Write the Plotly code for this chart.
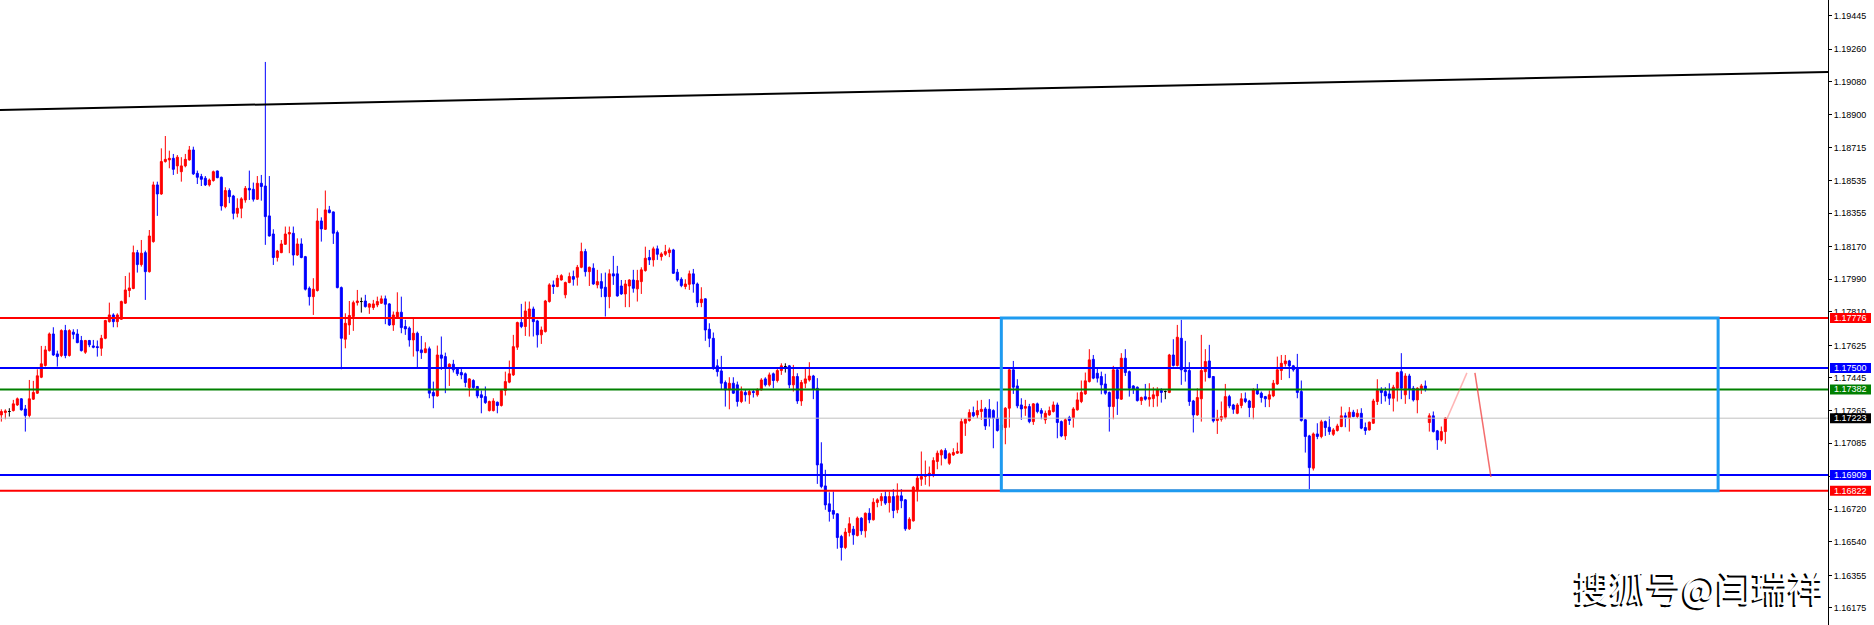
import plotly.graph_objects as go

# ---------------- data (EURUSD-like candles) ----------------
open_ = [
1.17241,1.17254,1.17260,1.17265,1.17296,1.17330,1.17274,1.17238,1.17328,1.17361,
1.17449,1.17514,1.17596,1.17688,1.17578,1.17569,1.17707,1.17569,1.17698,1.17688,
1.17652,1.17587,1.17652,1.17622,1.17618,1.17609,1.17664,1.17756,1.17793,1.17756,
1.17769,1.17858,1.17928,1.17939,1.18137,1.18071,1.18137,1.18032,1.18198,1.18511,
1.18461,1.18640,1.18649,1.18658,1.18616,1.18584,1.18616,1.18649,1.18704,1.18575,
1.18557,1.18548,1.18511,1.18535,1.18588,1.18553,1.18391,1.18480,1.18450,1.18354,
1.18382,1.18428,1.18492,1.18487,1.18432,1.18520,1.18505,1.18340,1.18240,1.18110,
1.18137,1.18183,1.18240,1.18244,1.18124,1.18185,1.18115,1.17940,1.17894,1.17928,
1.18312,1.18266,1.18373,1.18362,1.18248,1.17944,1.17659,1.17738,1.17784,1.17861,
1.17867,1.17870,1.17836,1.17834,1.17848,1.17858,1.17882,1.17854,1.17738,1.17778,
1.17808,1.17729,1.17720,1.17655,1.17692,1.17600,1.17585,1.17606,1.17365,1.17346,
1.17572,1.17563,1.17504,1.17521,1.17499,1.17475,1.17468,1.17392,1.17431,1.17398,
1.17352,1.17342,1.17265,1.17265,1.17311,1.17293,1.17376,1.17422,1.17462,1.17615,
1.17751,1.17729,1.17784,1.17826,1.17760,1.17683,1.17701,1.17867,1.17959,1.17950,
1.17986,1.17904,1.17972,1.18005,1.18001,1.18056,1.18143,1.18032,1.18051,1.17959,
1.17977,1.17946,1.17894,1.18020,1.18020,1.17953,1.17909,1.17953,1.17986,1.17937,
1.17977,1.18038,1.18110,1.18097,1.18158,1.18115,1.18128,1.18137,1.18152,1.18029,
1.17990,1.17950,1.17962,1.18020,1.17964,1.17861,1.17882,1.17714,1.17664,1.17512,
1.17484,1.17420,1.17379,1.17416,1.17407,1.17315,1.17365,1.17352,1.17370,1.17352,
1.17379,1.17440,1.17407,1.17468,1.17431,1.17486,1.17508,1.17512,1.17407,1.17453,
1.17318,1.17416,1.17434,1.17456,1.17388,1.16971,1.16849,1.16750,1.16713,1.16695,
1.16570,1.16509,1.16592,1.16610,1.16575,1.16671,1.16601,1.16698,1.16662,1.16757,
1.16767,1.16790,1.16757,1.16790,1.16717,1.16794,1.16772,1.16612,1.16656,1.16827,
1.16886,1.16901,1.16905,1.16910,1.16984,1.17020,1.17044,1.16974,1.17020,1.17030,
1.17030,1.17195,1.17210,1.17254,1.17241,1.17260,1.17274,1.17272,1.17265,1.17223,
1.17158,1.17171,1.17278,1.17490,1.17401,1.17296,1.17278,1.17287,1.17204,1.17302,
1.17265,1.17214,1.17241,1.17260,1.17296,1.17204,1.17125,1.17226,1.17226,1.17269,
1.17315,1.17357,1.17425,1.17548,1.17471,1.17453,1.17412,1.17365,1.17287,1.17490,
1.17328,1.17554,1.17480,1.17401,1.17394,1.17320,1.17341,1.17328,1.17331,1.17346,
1.17376,1.17370,1.17365,1.17572,1.17514,1.17664,1.17490,1.17486,1.17318,1.17241,
1.17330,1.17480,1.17539,1.17453,1.17210,1.17217,1.17228,1.17342,1.17296,1.17250,
1.17293,1.17330,1.17318,1.17282,1.17379,1.17361,1.17342,1.17328,1.17346,1.17412,
1.17486,1.17523,1.17539,1.17512,1.17499,1.17370,1.17214,1.17125,1.16947,1.17136,
1.17122,1.17204,1.17173,1.17134,1.17155,1.17177,1.17236,1.17226,1.17256,1.17232,
1.17250,1.17171,1.17158,1.17195,1.17315,1.17379,1.17370,1.17357,1.17333,1.17388,
1.17480,1.17352,1.17456,1.17388,1.17324,1.17383,1.17401,1.17199,1.17236,1.17153,
1.17103,1.17149]

high = [
1.17272,1.17272,1.17278,1.17324,1.17337,1.17333,1.17296,1.17434,1.17429,1.17493,
1.17622,1.17622,1.17696,1.17725,1.17596,1.17714,1.17738,1.17714,1.17714,1.17714,
1.17677,1.17655,1.17655,1.17655,1.17652,1.17683,1.17766,1.17861,1.17802,1.17802,
1.17872,1.18008,1.18027,1.18176,1.18152,1.18207,1.18148,1.18262,1.18529,1.18529,
1.18713,1.18781,1.18700,1.18682,1.18676,1.18664,1.18682,1.18726,1.18722,1.18590,
1.18572,1.18560,1.18546,1.18590,1.18590,1.18557,1.18498,1.18492,1.18456,1.18437,
1.18443,1.18505,1.18590,1.18524,1.18560,1.18566,1.19190,1.18560,1.18266,1.18152,
1.18207,1.18281,1.18281,1.18281,1.18216,1.18216,1.18119,1.17950,1.17996,1.18382,
1.18332,1.18480,1.18395,1.18364,1.18259,1.17950,1.17802,1.17870,1.17872,1.17931,
1.17889,1.17904,1.17858,1.17876,1.17894,1.17900,1.17900,1.17858,1.17812,1.17918,
1.17894,1.17766,1.17729,1.17775,1.17701,1.17677,1.17642,1.17618,1.17425,1.17624,
1.17674,1.17585,1.17526,1.17545,1.17504,1.17499,1.17475,1.17444,1.17438,1.17401,
1.17376,1.17398,1.17320,1.17333,1.17315,1.17383,1.17480,1.17541,1.17683,1.17756,
1.17854,1.17867,1.17867,1.17839,1.17766,1.17729,1.17876,1.17968,1.17983,1.18014,
1.18018,1.17977,1.18027,1.18038,1.18069,1.18192,1.18158,1.18060,1.18078,1.18042,
1.18023,1.18027,1.18045,1.18119,1.18064,1.17986,1.17986,1.17990,1.18042,1.18042,
1.18056,1.18170,1.18152,1.18170,1.18176,1.18139,1.18180,1.18165,1.18158,1.18047,
1.18001,1.17990,1.18038,1.18047,1.17972,1.17946,1.17885,1.17747,1.17696,1.17548,
1.17567,1.17431,1.17449,1.17449,1.17425,1.17398,1.17379,1.17379,1.17383,1.17388,
1.17444,1.17449,1.17475,1.17475,1.17499,1.17526,1.17526,1.17517,1.17517,1.17471,
1.17434,1.17499,1.17532,1.17462,1.17444,1.17090,1.16938,1.16814,1.16818,1.16698,
1.16579,1.16616,1.16676,1.16628,1.16680,1.16676,1.16702,1.16726,1.16781,1.16781,
1.16809,1.16818,1.16818,1.16831,1.16863,1.16831,1.16776,1.16676,1.16849,1.16905,
1.17039,1.16989,1.16956,1.17007,1.17044,1.17052,1.17057,1.17033,1.17057,1.17088,
1.17223,1.17223,1.17272,1.17287,1.17320,1.17324,1.17284,1.17328,1.17272,1.17315,
1.17214,1.17284,1.17499,1.17539,1.17438,1.17333,1.17324,1.17302,1.17306,1.17309,
1.17278,1.17265,1.17287,1.17315,1.17309,1.17210,1.17223,1.17236,1.17284,1.17365,
1.17431,1.17475,1.17604,1.17572,1.17499,1.17480,1.17468,1.17370,1.17512,1.17493,
1.17582,1.17604,1.17486,1.17405,1.17398,1.17342,1.17412,1.17416,1.17394,1.17394,
1.17388,1.17376,1.17578,1.17659,1.17738,1.17766,1.17650,1.17532,1.17324,1.17388,
1.17683,1.17604,1.17628,1.17456,1.17269,1.17315,1.17412,1.17352,1.17302,1.17306,
1.17361,1.17365,1.17324,1.17388,1.17412,1.17370,1.17346,1.17376,1.17434,1.17563,
1.17572,1.17572,1.17545,1.17517,1.17578,1.17431,1.17217,1.17131,1.17144,1.17195,
1.17214,1.17210,1.17232,1.17168,1.17192,1.17287,1.17254,1.17284,1.17269,1.17272,
1.17278,1.17199,1.17204,1.17330,1.17438,1.17394,1.17394,1.17416,1.17407,1.17480,
1.17582,1.17471,1.17468,1.17401,1.17394,1.17412,1.17431,1.17250,1.17260,1.17158,
1.17177,1.17228]

low = [
1.17204,1.17217,1.17232,1.17260,1.17291,1.17265,1.17149,1.17227,1.17324,1.17357,
1.17444,1.17508,1.17591,1.17567,1.17508,1.17560,1.17554,1.17563,1.17659,1.17637,
1.17591,1.17578,1.17615,1.17609,1.17563,1.17567,1.17659,1.17751,1.17725,1.17725,
1.17766,1.17854,1.17891,1.17935,1.18027,1.18060,1.17876,1.18027,1.18192,1.18340,
1.18456,1.18634,1.18603,1.18566,1.18572,1.18529,1.18608,1.18645,1.18566,1.18516,
1.18505,1.18505,1.18502,1.18529,1.18548,1.18369,1.18382,1.18410,1.18321,1.18332,
1.18327,1.18413,1.18428,1.18419,1.18428,1.18424,1.18180,1.18226,1.18069,1.18088,
1.18134,1.18180,1.18134,1.18066,1.18119,1.18106,1.17928,1.17845,1.17793,1.17922,
1.18198,1.18262,1.18354,1.18185,1.17940,1.17493,1.17609,1.17683,1.17705,1.17845,
1.17806,1.17834,1.17799,1.17821,1.17836,1.17854,1.17742,1.17732,1.17705,1.17775,
1.17692,1.17683,1.17618,1.17563,1.17504,1.17550,1.17582,1.17333,1.17278,1.17342,
1.17490,1.17361,1.17401,1.17475,1.17456,1.17438,1.17394,1.17342,1.17383,1.17333,
1.17250,1.17302,1.17260,1.17260,1.17250,1.17287,1.17348,1.17416,1.17456,1.17600,
1.17720,1.17677,1.17674,1.17674,1.17613,1.17633,1.17696,1.17861,1.17909,1.17946,
1.17983,1.17885,1.17968,1.17955,1.17955,1.18051,1.18005,1.17953,1.17959,1.17940,
1.17891,1.17784,1.17830,1.17959,1.17894,1.17904,1.17836,1.17836,1.17916,1.17867,
1.17909,1.18032,1.18069,1.18060,1.18097,1.18093,1.18119,1.18112,1.18020,1.17977,
1.17946,1.17935,1.17931,1.17916,1.17836,1.17836,1.17650,1.17615,1.17490,1.17453,
1.17383,1.17287,1.17272,1.17357,1.17287,1.17306,1.17315,1.17302,1.17337,1.17342,
1.17376,1.17398,1.17398,1.17388,1.17420,1.17462,1.17475,1.17388,1.17370,1.17302,
1.17291,1.17388,1.17425,1.17328,1.16860,1.16836,1.16717,1.16652,1.16667,1.16502,
1.16437,1.16500,1.16570,1.16524,1.16570,1.16579,1.16564,1.16643,1.16658,1.16731,
1.16739,1.16744,1.16702,1.16671,1.16698,1.16726,1.16601,1.16606,1.16652,1.16763,
1.16849,1.16855,1.16846,1.16897,1.16941,1.16962,1.16996,1.16965,1.17015,1.17026,
1.17026,1.17125,1.17204,1.17228,1.17223,1.17214,1.17158,1.17177,1.17057,1.17149,
1.17140,1.17079,1.17171,1.17357,1.17278,1.17214,1.17236,1.17195,1.17186,1.17250,
1.17217,1.17192,1.17236,1.17254,1.17112,1.17118,1.17103,1.17186,1.17171,1.17265,
1.17306,1.17352,1.17420,1.17438,1.17420,1.17355,1.17352,1.17149,1.17217,1.17241,
1.17324,1.17456,1.17342,1.17357,1.17315,1.17296,1.17320,1.17287,1.17284,1.17287,
1.17309,1.17328,1.17361,1.17508,1.17508,1.17407,1.17425,1.17291,1.17144,1.17236,
1.17204,1.17425,1.17444,1.17199,1.17136,1.17204,1.17217,1.17278,1.17247,1.17245,
1.17278,1.17306,1.17228,1.17217,1.17352,1.17309,1.17284,1.17284,1.17339,1.17407,
1.17434,1.17508,1.17444,1.17480,1.17333,1.17204,1.17033,1.16831,1.16934,1.17107,
1.17112,1.17125,1.17131,1.17125,1.17149,1.17173,1.17173,1.17149,1.17228,1.17223,
1.17162,1.17131,1.17155,1.17192,1.17296,1.17302,1.17315,1.17296,1.17260,1.17315,
1.17328,1.17302,1.17328,1.17315,1.17250,1.17357,1.17370,1.17149,1.17144,1.17048,
1.17094,1.17081]

close = [
1.17260,1.17263,1.17260,1.17302,1.17330,1.17269,1.17238,1.17330,1.17365,1.17457,
1.17523,1.17600,1.17688,1.17572,1.17563,1.17707,1.17569,1.17707,1.17686,1.17640,
1.17596,1.17652,1.17628,1.17615,1.17613,1.17664,1.17762,1.17793,1.17756,1.17793,
1.17867,1.17931,1.17942,1.18137,1.18071,1.18134,1.18032,1.18229,1.18511,1.18461,
1.18640,1.18652,1.18658,1.18597,1.18664,1.18616,1.18652,1.18704,1.18572,1.18553,
1.18542,1.18511,1.18538,1.18584,1.18551,1.18395,1.18480,1.18446,1.18354,1.18382,
1.18434,1.18492,1.18483,1.18432,1.18520,1.18502,1.18336,1.18229,1.18110,1.18146,
1.18185,1.18240,1.18248,1.18124,1.18185,1.18110,1.17935,1.17894,1.17935,1.18312,
1.18268,1.18373,1.18358,1.18244,1.17944,1.17664,1.17747,1.17790,1.17861,1.17870,
1.17867,1.17839,1.17854,1.17854,1.17867,1.17882,1.17852,1.17738,1.17793,1.17808,
1.17723,1.17716,1.17655,1.17692,1.17594,1.17585,1.17606,1.17361,1.17346,1.17572,
1.17554,1.17499,1.17521,1.17490,1.17468,1.17462,1.17420,1.17440,1.17392,1.17346,
1.17337,1.17309,1.17315,1.17318,1.17293,1.17376,1.17425,1.17468,1.17618,1.17751,
1.17729,1.17815,1.17826,1.17756,1.17683,1.17710,1.17870,1.17959,1.17950,1.17996,
1.18010,1.17972,1.18005,1.17990,1.18056,1.18143,1.18032,1.18056,1.17964,1.17977,
1.17940,1.17894,1.18020,1.18008,1.17898,1.17909,1.17964,1.17986,1.17940,1.17983,
1.18042,1.18106,1.18097,1.18158,1.18128,1.18130,1.18143,1.18152,1.18023,1.17986,
1.17955,1.17964,1.18020,1.17964,1.17861,1.17880,1.17710,1.17664,1.17499,1.17480,
1.17416,1.17379,1.17416,1.17361,1.17315,1.17370,1.17352,1.17370,1.17365,1.17379,
1.17434,1.17407,1.17462,1.17431,1.17486,1.17512,1.17508,1.17407,1.17453,1.17318,
1.17420,1.17440,1.17456,1.17383,1.16965,1.16846,1.16744,1.16708,1.16693,1.16564,
1.16509,1.16594,1.16640,1.16579,1.16671,1.16601,1.16698,1.16662,1.16759,1.16772,
1.16790,1.16754,1.16790,1.16713,1.16794,1.16767,1.16612,1.16665,1.16842,1.16892,
1.16901,1.16910,1.16919,1.16989,1.17030,1.17044,1.17002,1.17026,1.17033,1.17039,
1.17204,1.17217,1.17254,1.17236,1.17265,1.17272,1.17180,1.17223,1.17223,1.17155,
1.17186,1.17278,1.17490,1.17394,1.17291,1.17274,1.17287,1.17204,1.17302,1.17260,
1.17250,1.17250,1.17265,1.17296,1.17199,1.17125,1.17214,1.17210,1.17274,1.17324,
1.17365,1.17429,1.17545,1.17444,1.17444,1.17407,1.17361,1.17287,1.17490,1.17331,
1.17554,1.17475,1.17388,1.17383,1.17320,1.17337,1.17328,1.17337,1.17352,1.17379,
1.17365,1.17370,1.17572,1.17514,1.17670,1.17490,1.17480,1.17315,1.17241,1.17337,
1.17486,1.17536,1.17447,1.17208,1.17223,1.17232,1.17342,1.17291,1.17272,1.17296,
1.17330,1.17315,1.17282,1.17379,1.17357,1.17337,1.17330,1.17352,1.17416,1.17490,
1.17526,1.17539,1.17512,1.17490,1.17365,1.17210,1.17122,1.16950,1.17136,1.17122,
1.17203,1.17171,1.17149,1.17158,1.17180,1.17236,1.17228,1.17256,1.17232,1.17250,
1.17168,1.17155,1.17201,1.17318,1.17376,1.17365,1.17346,1.17333,1.17394,1.17475,
1.17388,1.17456,1.17383,1.17324,1.17388,1.17401,1.17383,1.17236,1.17149,1.17103,
1.17149,1.17223]

# horizontal levels and their price labels
level_prices = [1.17776, 1.17500, 1.17382, 1.17223, 1.16909, 1.16822]
level_line_colors = ["#FF0000", "#0000FF", "#008000", "#C0C0C0", "#0000FF", "#FF0000"]
level_label_colors = ["#FF0000", "#0000FF", "#008000", "#000000", "#0000FF", "#FF0000"]
level_line_widths = [2, 2, 2, 1, 2, 2]

# right-axis tick labels
tick_vals = [1.19445, 1.19260, 1.19080, 1.18900, 1.18715, 1.18535, 1.18355, 1.18170,
             1.17990, 1.17810, 1.17625, 1.17445, 1.17265, 1.17085, 1.16900, 1.16720,
             1.16540, 1.16355, 1.16175]

# drawn objects (bar index, price)
trend_x = [-0.33, 456.67]
trend_y = [1.18925, 1.19135]
range_box_x = [250.0, 429.2]
range_box_y = [1.16822, 1.17776]
proj_up_x = [361.4, 366.4]
proj_up_y = [1.17219, 1.17473]
proj_down_x = [368.4, 372.4]
proj_down_y = [1.17473, 1.16899]

watermark = "搜狐号@闫瑞祥"

# ---------------- layout constants ----------------
W, H = 1874, 625
R_MARGIN = 46
PLOT_W = W - R_MARGIN
Y_MIN, Y_MAX = 1.16081, 1.19532
X_MIN, X_MAX = -0.333, 456.67

n = len(close)
xs = list(range(n))
is_doji = [o == c for o, c in zip(open_, close)]
main_idx = [i for i in xs if not is_doji[i]]
doji_idx = [i for i in xs if is_doji[i]]

fig = go.Figure()
fig.add_trace(go.Candlestick(
    x=main_idx,
    open=[open_[i] for i in main_idx], high=[high[i] for i in main_idx],
    low=[low[i] for i in main_idx], close=[close[i] for i in main_idx],
    increasing=dict(line=dict(color="#FF0000", width=1), fillcolor="#FF0000"),
    decreasing=dict(line=dict(color="#0000FF", width=1), fillcolor="#0000FF"),
    whiskerwidth=0, hoverinfo="skip", showlegend=False))
fig.add_trace(go.Candlestick(
    x=doji_idx,
    open=[open_[i] for i in doji_idx], high=[high[i] for i in doji_idx],
    low=[low[i] for i in doji_idx], close=[close[i] for i in doji_idx],
    increasing=dict(line=dict(color="#000000", width=1), fillcolor="#000000"),
    decreasing=dict(line=dict(color="#000000", width=1), fillcolor="#000000"),
    whiskerwidth=0, hoverinfo="skip", showlegend=False))

shapes = []
# level lines
for p, col, lw in zip(level_prices, level_line_colors, level_line_widths):
    shapes.append(dict(type="line", xref="x", yref="y", x0=X_MIN, x1=X_MAX, y0=p, y1=p,
                       line=dict(color=col, width=lw), layer="above"))
# trend line
shapes.append(dict(type="line", xref="x", yref="y", x0=trend_x[0], x1=trend_x[1],
                   y0=trend_y[0], y1=trend_y[1], line=dict(color="#000000", width=2), layer="above"))
# range rectangle
shapes.append(dict(type="rect", xref="x", yref="y", x0=range_box_x[0], x1=range_box_x[1],
                   y0=range_box_y[0], y1=range_box_y[1],
                   line=dict(color="#1E9BF0", width=3), fillcolor="rgba(0,0,0,0)", layer="above"))
# projection lines
shapes.append(dict(type="line", xref="x", yref="y", x0=proj_up_x[0], x1=proj_up_x[1],
                   y0=proj_up_y[0], y1=proj_up_y[1], line=dict(color="rgba(255,90,90,0.45)", width=1.5),
                   layer="above"))
shapes.append(dict(type="line", xref="x", yref="y", x0=proj_down_x[0], x1=proj_down_x[1],
                   y0=proj_down_y[0], y1=proj_down_y[1], line=dict(color="rgba(240,60,60,0.75)", width=1.5),
                   layer="above"))

# price label boxes on the axis
def to_paper_y(p):
    return (p - Y_MIN) / (Y_MAX - Y_MIN)

box_x0 = 1830 / PLOT_W
box_x1 = 1871 / PLOT_W
half_h = 5 / H
annotations = []
for p, col in zip(level_prices, level_label_colors):
    yp = to_paper_y(p)
    shapes.append(dict(type="rect", xref="paper", yref="paper", x0=box_x0, x1=box_x1,
                       y0=yp - half_h, y1=yp + half_h, line=dict(width=0), fillcolor=col,
                       layer="above"))
    annotations.append(dict(xref="paper", yref="paper", x=(box_x0 + box_x1) / 2, y=yp,
                            xanchor="center", yanchor="middle", showarrow=False,
                            text=f"{p:.5f}", font=dict(family="Liberation Sans", size=9, color="#FFFFFF"),
                            borderpad=0))

# watermark with dark shadow
wm_x = 1826 / PLOT_W
wm_y = 1 - 586 / H
annotations.append(dict(xref="paper", yref="paper", x=wm_x, y=wm_y, xshift=-2, yshift=-2,
                        xanchor="right", yanchor="middle", showarrow=False, text=watermark,
                        font=dict(family="Noto Sans CJK SC", size=36, color="#000000")))
annotations.append(dict(xref="paper", yref="paper", x=wm_x, y=wm_y,
                        xanchor="right", yanchor="middle", showarrow=False, text=watermark,
                        font=dict(family="Noto Sans CJK SC", size=36, color="#FFFFFF")))

fig.update_layout(
    width=W, height=H,
    margin=dict(l=0, r=R_MARGIN, t=0, b=0, pad=0),
    paper_bgcolor="white", plot_bgcolor="white",
    showlegend=False,
    boxgap=0.5, boxgroupgap=0, boxmode="overlay",
    shapes=shapes, annotations=annotations,
    xaxis=dict(range=[X_MIN, X_MAX], visible=False, rangeslider=dict(visible=False),
               showgrid=False, zeroline=False, fixedrange=True),
    yaxis=dict(range=[Y_MIN, Y_MAX], side="right", tickvals=tick_vals,
               ticktext=[f"{v:.5f}" for v in tick_vals],
               showgrid=False, zeroline=False, showline=True, linecolor="#000000", linewidth=1,
               ticks="outside", ticklen=3, tickcolor="#000000", tickwidth=1,
               tickfont=dict(family="Liberation Sans", size=9, color="#000000"),
               automargin=False, fixedrange=True),
    hovermode=False,
)

fig.write_html("out.html", config={"displayModeBar": False, "staticPlot": True},
               post_script="document.body.style.margin='0';document.body.style.overflow='hidden';")
